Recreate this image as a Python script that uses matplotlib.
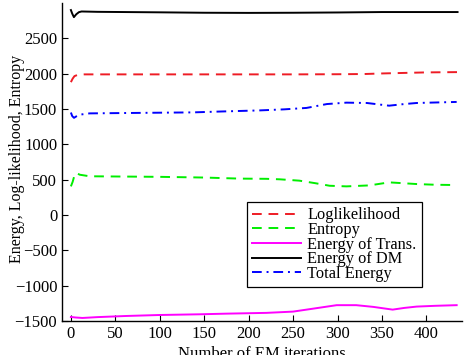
import matplotlib
matplotlib.use("Agg")
import matplotlib.pyplot as plt

plt.rcParams['font.family'] = ['Liberation Serif', 'DejaVu Serif']
plt.rcParams['mathtext.fontset'] = 'stix'

# Loglikelihood
ll_x = [0, 2, 4, 8, 15, 50, 100, 150, 200, 250, 300, 330, 350, 380, 400, 435]
ll_y = [1880, 1930, 1965, 1985, 1990, 1990, 1990, 1990, 1990, 1990, 1992, 1995, 2003, 2012, 2018, 2022]

# Entropy
en_x = [0, 2, 4, 6, 10, 21, 50, 100, 150, 190, 220, 235, 257, 275, 291, 310, 336, 358, 389, 410, 434]
en_y = [405, 470, 560, 595, 570, 548, 545, 540, 530, 515, 512, 505, 486, 450, 414, 405, 419, 462, 438, 428, 424]

# Energy of Trans.
tr_x = [0, 5, 13, 30, 62, 100, 145, 175, 220, 250, 270, 299, 321, 340, 362, 375, 389, 410, 434]
tr_y = [-1443, -1450, -1457, -1445, -1429, -1415, -1405, -1396, -1385, -1367, -1330, -1276, -1276, -1300, -1339, -1315, -1296, -1285, -1276]

# Energy of DM
dm_x = [0, 1.5, 3.4, 6, 9, 12, 30, 100, 150, 200, 250, 300, 350, 400, 435]
dm_y = [2900, 2850, 2800, 2840, 2870, 2880, 2875, 2868, 2862, 2860, 2862, 2866, 2872, 2872, 2872]

# Total Energy
te_x = [0, 1.5, 3.5, 6, 10, 21, 60, 137, 170, 212, 240, 265, 288, 310, 333, 358, 375, 389, 410, 434]
te_y = [1450, 1400, 1375, 1395, 1420, 1438, 1443, 1452, 1465, 1480, 1495, 1515, 1570, 1590, 1585, 1547, 1570, 1585, 1592, 1600]

xticks = [0, 50, 100, 150, 200, 250, 300, 350, 400]
yticks = [-1500, -1000, -500, 0, 500, 1000, 1500, 2000, 2500]

fig = plt.figure(figsize=(4.74, 3.55), dpi=100)
ax = fig.add_axes([62/474, 1 - 321/355, 400/474, 318/355])

lw = 1.4
ax.plot(ll_x, ll_y, color='#ee1c25', linestyle=(0, (5, 3.5)), lw=lw, label='Loglikelihood')
ax.plot(en_x, en_y, color='#00ee00', linestyle=(0, (5, 3.5)), lw=lw, label='Entropy')
ax.plot(tr_x, tr_y, color='#ff00ff', linestyle='-', lw=lw, label='Energy of Trans.')
ax.plot(dm_x, dm_y, color='black', linestyle='-', lw=lw, label='Energy of DM')
ax.plot(te_x, te_y, color='#0000ff', linestyle=(0, (5, 2.5, 1, 2.5)), lw=lw, label='Total Energy')

ax.set_xlim(-10, 440)
ax.set_ylim(-1500, 3000)
ax.set_xticks(xticks)
ax.set_yticks(yticks)
ax.tick_params(direction='in', labelsize=12, length=4, width=0.8)
for s in ['top', 'right']:
    ax.spines[s].set_visible(False)
for s in ['left', 'bottom']:
    ax.spines[s].set_linewidth(1.0)

ax.set_xlabel('Number of EM iterations', fontsize=12, labelpad=3)
ax.set_ylabel('Energy, Log-likelihood, Entropy', fontsize=11.5)
ax.yaxis.set_label_coords(-0.0925, 0.511)

leg = ax.legend(loc='upper left', bbox_to_anchor=(0.4625, 0.374), borderaxespad=0,
                fontsize=11.8, handlelength=3.0, handletextpad=0.37, labelspacing=-0.08,
                borderpad=0.32, fancybox=False, framealpha=1, edgecolor='black')
leg.get_frame().set_linewidth(0.9)

fig.savefig('out.png', dpi=100)
